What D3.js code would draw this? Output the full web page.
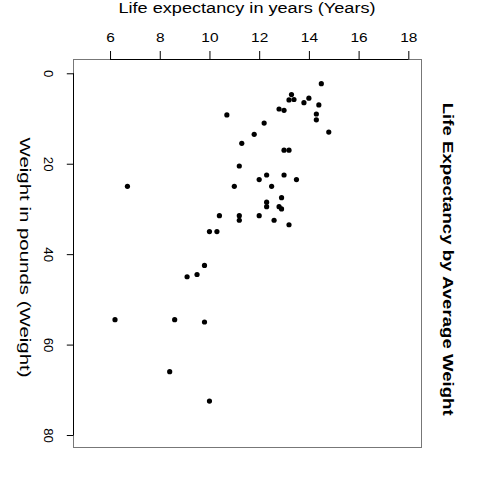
<!DOCTYPE html>
<html>
<head>
<meta charset="utf-8">
<script src="https://cdn.jsdelivr.net/npm/d3@7"></script>
<style>
  body { margin: 0; background: #fff; }
  text { font-family: "Liberation Sans", Arial, Helvetica, sans-serif; fill: #000; }
</style>
</head>
<body>
<div id="chart"></div>
<script>
  // values, one entry per dot
  var lifeYears = [14.5,13.3,13.2,13.4,14.0,13.8,14.4,12.8,13.0,14.3,14.3,10.7,12.2,14.8,11.8,11.3,13.0,13.2,11.2,12.3,
                   13.0,12.0,13.5,11.0,12.5,6.7,12.9,12.3,12.3,12.8,12.9,10.4,11.2,11.2,12.0,12.6,13.2,10.0,10.3,9.8,
                   9.5,9.1,6.2,8.6,9.8,8.4,10.0];
  var weightLbs = [2.3,4.7,5.9,5.8,5.5,6.5,7.0,7.9,8.2,9.0,10.3,9.2,11.0,13.0,13.5,15.5,17.0,17.0,20.5,22.5,
                   22.5,23.5,23.5,25.0,25.0,25.0,27.5,28.5,29.5,29.5,30.0,31.5,31.5,32.5,31.5,32.5,33.5,35.0,35.0,42.5,
                   44.5,45.0,54.5,54.5,55.0,66.0,72.5];
  var lifeTicks = [6, 8, 10, 12, 14, 16, 18];
  var weightTicks = [0, 20, 40, 60, 80];

  var width = 480,
      height = 480,
      box = { left: 73, right: 421, top: 59, bottom: 447 };

  var svg = d3.select("#chart").append("svg")
      .attr("width", width)
      .attr("height", height);

  // life expectancy runs left to right, weight runs top to bottom
  var x = d3.scaleLinear().domain([4.51, 18.51]).range([box.left, box.right]);
  var y = d3.scaleLinear().domain([-3.16, 82.65]).range([box.top, box.bottom]);

  svg.append("rect")
      .attr("x", box.left + 0.5)
      .attr("y", box.top + 0.5)
      .attr("width", box.right - box.left)
      .attr("height", box.bottom - box.top)
      .style("fill", "none")
      .style("stroke", "#777");

  // top axis
  var topAxis = d3.axisTop(x).tickValues(lifeTicks).tickSize(8.5).tickPadding(9);
  var gTop = svg.append("g")
      .attr("transform", "translate(0," + (box.top + 0.5) + ")")
      .call(topAxis);
  gTop.selectAll("line, path").style("stroke", "#000");
  gTop.select(".domain").attr("d", "M" + x(6) + ",0H" + x(18));
  gTop.selectAll("text")
      .attr("font-family", null)
      .attr("font-size", null)
      .style("font-size", "12px")
      .attr("lengthAdjust", "spacingAndGlyphs")
      .attr("textLength", function(d) { return String(d).length * 8.6; });

  // left axis, labels turned to read downwards
  var leftAxis = d3.axisLeft(y).tickValues(weightTicks).tickSize(6.7);
  var gLeft = svg.append("g")
      .attr("transform", "translate(" + (box.left + 0.5) + ",0)")
      .call(leftAxis);
  gLeft.select(".domain").attr("d", "M0," + y(0) + "V" + y(80)).style("stroke", "#000");
  gLeft.selectAll("line").style("stroke", "#000");
  gLeft.selectAll("text")
      .attr("x", null).attr("dy", null)
      .attr("font-size", null)
      .attr("text-anchor", "middle")
      .attr("transform", "translate(-29.5,0) rotate(90)")
      .style("font-size", "13px")
      .attr("lengthAdjust", "spacingAndGlyphs")
      .attr("textLength", function(d) { return String(d).length * 7.4; });

  svg.append("text")
      .attr("x", (box.left + box.right) / 2)
      .attr("y", 12.7)
      .attr("text-anchor", "middle")
      .style("font-size", "15.5px")
      .attr("lengthAdjust", "spacingAndGlyphs")
      .attr("textLength", 257)
      .text("Life expectancy in years (Years)");

  svg.append("text")
      .attr("transform", "translate(20,257.5) rotate(90)")
      .attr("text-anchor", "middle")
      .style("font-size", "14px")
      .attr("lengthAdjust", "spacingAndGlyphs")
      .attr("textLength", 240)
      .text("Weight in pounds (Weight)");

  svg.append("text")
      .attr("transform", "translate(442.5,259.2) rotate(90)")
      .attr("text-anchor", "middle")
      .style("font-size", "14px")
      .style("font-weight", "bold")
      .attr("lengthAdjust", "spacingAndGlyphs")
      .attr("textLength", 313)
      .text("Life Expectancy by Average Weight");

  var data = lifeYears.map(function(d, i) { return { life: d, weight: weightLbs[i] }; });

  svg.selectAll(".dot")
      .data(data)
      .enter().append("circle")
      .attr("class", "dot")
      .attr("cx", function(d) { return x(d.life); })
      .attr("cy", function(d) { return y(d.weight); })
      .attr("r", 2.6)
      .style("fill", "#000");
</script>
</body>
</html>
